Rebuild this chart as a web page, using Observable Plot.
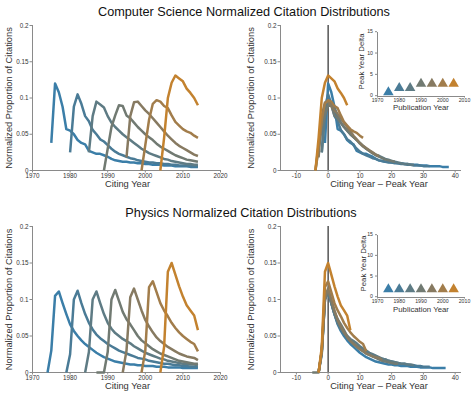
<!DOCTYPE html>
<html>
<head>
<meta charset="utf-8">
<script src="https://cdn.jsdelivr.net/npm/d3@7"></script>
<script src="https://cdn.jsdelivr.net/npm/@observablehq/plot@0.6"></script>
<style>
  html, body { margin: 0; padding: 0; background: #fff; }
  #chart { position: relative; width: 474px; height: 395px; background: #fff; font-family: "Liberation Sans", Arial, sans-serif; overflow: hidden; }
  .title { position: absolute; width: 474px; text-align: center; font-size: 12.7px; line-height: 14px; color: #111; white-space: nowrap; }
  .panel { position: absolute; }
</style>
</head>
<body>
<div id="chart">
  <div class="title" style="left:7px; top:5px;">Computer Science Normalized Citation Distributions</div>
  <div class="title" style="left:4px; top:206px;">Physics Normalized Citation Distributions</div>
</div>
<script>
// ---------- data ----------
const pubYears = [1975, 1980, 1985, 1990, 1995, 2000, 2005];
const seriesColors = ["#3b7ea8", "#4a7b96", "#5e7b84", "#717a72", "#877a61", "#a27d4b", "#c3822f"];

// Computer Science: first citing year of each series and yearly values
const csStart = [1975, 1980, 1985, 1989, 1995, 1999, 2004];
const cs1975 = [0.038,0.12,0.108,0.088,0.057,0.055,0.05,0.042,0.038,0.036,0.027,0.025,0.023,0.023,0.021,0.019,0.016,0.014,0.013,0.012,0.012,0.011,0.011,0.010,0.010,0.009,0.009,0.008,0.008,0.008,0.007,0.007,0.007,0.006,0.006,0.006,0.006,0.005,0.005,0.005];
const cs1980 = [0.025,0.088,0.105,0.092,0.075,0.068,0.056,0.05,0.043,0.04,0.035,0.03,0.026,0.023,0.021,0.019,0.017,0.016,0.014,0.013,0.012,0.011,0.011,0.010,0.010,0.009,0.009,0.008,0.008,0.007,0.007,0.007,0.006,0.006,0.006];
const cs1985 = [0.025,0.075,0.095,0.091,0.087,0.075,0.066,0.06,0.055,0.05,0.046,0.042,0.038,0.034,0.03,0.027,0.024,0.022,0.02,0.018,0.016,0.015,0.013,0.012,0.011,0.010,0.009,0.009,0.008,0.008];
const cs1990 = [0,0.03,0.06,0.076,0.09,0.089,0.076,0.072,0.066,0.06,0.055,0.05,0.046,0.042,0.037,0.033,0.03,0.027,0.024,0.021,0.019,0.017,0.015,0.014,0.013,0.012];
const cs1995 = [0.018,0.075,0.094,0.095,0.089,0.083,0.078,0.072,0.066,0.06,0.054,0.048,0.043,0.038,0.034,0.031,0.028,0.025,0.022,0.02];
const cs2000 = [0,0.035,0.07,0.092,0.097,0.095,0.089,0.086,0.076,0.067,0.062,0.057,0.054,0.052,0.048,0.045];
const cs2005 = [0,0.045,0.1,0.121,0.131,0.127,0.123,0.113,0.107,0.1,0.09];
const csPeakDelta = [1, 2, 2, 3, 3, 3, 3];

// Physics
const phStart = [1974, 1979, 1984, 1987, 1994, 1999, 2004];
const ph1975 = [0,0.03,0.105,0.111,0.095,0.08,0.066,0.057,0.05,0.044,0.039,0.035,0.031,0.027,0.024,0.021,0.019,0.017,0.015,0.014,0.013,0.012,0.011,0.011,0.010,0.010,0.009,0.009,0.009,0.008,0.008,0.008,0.007,0.007,0.007,0.007,0.006,0.006,0.006,0.006,0.006];
const ph1980 = [0,0.025,0.1,0.112,0.095,0.08,0.068,0.059,0.052,0.047,0.043,0.039,0.036,0.033,0.03,0.028,0.026,0.024,0.022,0.02,0.019,0.018,0.016,0.015,0.014,0.013,0.012,0.012,0.011,0.010,0.010,0.009,0.009,0.008,0.008,0.008];
const ph1985 = [0,0.028,0.1,0.111,0.095,0.08,0.068,0.06,0.054,0.05,0.046,0.043,0.04,0.036,0.033,0.03,0.027,0.025,0.023,0.021,0.019,0.018,0.016,0.015,0.014,0.013,0.012,0.012,0.011,0.011,0.010];
const ph1990 = [0,0,0,0.028,0.1,0.113,0.098,0.083,0.073,0.066,0.058,0.05,0.044,0.04,0.036,0.032,0.029,0.026,0.024,0.022,0.02,0.018,0.016,0.015,0.014,0.013,0.012,0.012];
const ph1995 = [0,0.03,0.103,0.115,0.1,0.085,0.072,0.063,0.055,0.048,0.043,0.039,0.035,0.032,0.029,0.026,0.024,0.022,0.021,0.02,0.017];
const ph2000 = [0,0.03,0.117,0.125,0.11,0.095,0.085,0.077,0.068,0.061,0.055,0.05,0.046,0.042,0.039,0.029];
const ph2005 = [0,0.035,0.138,0.15,0.134,0.118,0.104,0.092,0.085,0.078,0.058];
const phPeakDelta = [2, 2, 2, 2, 2, 2, 2];

// tick labels
const yTicks = [0, 0.05, 0.1, 0.15, 0.2];
const citingYearTicks = [1970, 1980, 1990, 2000, 2010, 2020];
const relTicks = [-10, 0, 10, 20, 30, 40];
const insetXTicks = [1970, 1980, 1990, 2000, 2010];
const insetYTicks = [0, 5, 10, 15];

// ---------- build tables ----------
function buildRows(starts, seriesList, deltas) {
  const rows = [];
  seriesList.forEach((vals, i) => {
    const pub = pubYears[i];
    const peak = pub + deltas[i];
    vals.forEach((v, k) => {
      const year = starts[i] + k;
      rows.push({pub, year, rel: year - peak, value: v});
    });
  });
  return rows;
}
const csRows = buildRows(csStart, [cs1975, cs1980, cs1985, cs1990, cs1995, cs2000, cs2005], csPeakDelta);
const phRows = buildRows(phStart, [ph1975, ph1980, ph1985, ph1990, ph1995, ph2000, ph2005], phPeakDelta);
const csDelta = pubYears.map((p, i) => ({pub: p, delta: csPeakDelta[i]}));
const phDelta = pubYears.map((p, i) => ({pub: p, delta: phPeakDelta[i]}));

// ---------- drawing ----------
const FONT = "Liberation Sans, Arial, sans-serif";
const AX = "#8a8a8a";
const TXT = "#333";
const color = {type: "ordinal", domain: pubYears, range: seriesColors};
const chart = document.getElementById("chart");

function place(svg, left, top) {
  const d = document.createElement("div");
  d.className = "panel";
  d.style.left = left + "px";
  d.style.top = top + "px";
  d.appendChild(svg);
  chart.appendChild(d);
}

function mainPanel({rows, xKey, xDomain, xTicks, geom, xLabel, xLabelDx, ylabDx, zeroRule}) {
  const marks = [
    Plot.axisX({ticks: xTicks, tickFormat: d => String(d), tickSize: 2.5, tickPadding: 1, label: null, stroke: AX, fill: TXT}),
    Plot.axisY({ticks: yTicks, tickFormat: d => String(d), tickSize: 2.5, tickPadding: 1.5, label: null, stroke: AX, fill: TXT}),
    Plot.ruleY([0], {stroke: AX, strokeWidth: 1}),
    Plot.ruleX([xDomain[0]], {stroke: AX, strokeWidth: 1})
  ];
  if (zeroRule) marks.push(Plot.ruleX([0], {stroke: "#3a3a3a", strokeWidth: 1.3}));
  marks.push(
    Plot.line(rows, {x: xKey, y: "value", z: "pub", stroke: "pub", strokeWidth: 2.5, strokeLinejoin: "round", strokeLinecap: "butt"}),
    Plot.text([xLabel], {frameAnchor: "bottom", dy: 16, dx: xLabelDx, fontSize: 9.3, fill: TXT}),
    Plot.text(["Normalized Proportion of Citations"], {frameAnchor: "left", textAnchor: "middle", rotate: -90, dx: ylabDx, fontSize: 9.3, fill: TXT})
  );
  return Plot.plot({
    width: geom.width, height: geom.height,
    marginLeft: geom.ml, marginRight: geom.mr, marginTop: geom.mt, marginBottom: geom.mb,
    x: {domain: xDomain},
    y: {domain: [0, 0.2]},
    color,
    style: {fontFamily: FONT, fontSize: "6.3px", color: TXT, background: "transparent", overflow: "visible"},
    marks
  });
}

function inset({data, geom, xlabDy, ylabDx, ylabDy}) {
  return Plot.plot({
    width: geom.width, height: geom.height,
    marginLeft: geom.ml, marginRight: geom.mr, marginTop: geom.mt, marginBottom: geom.mb,
    x: {domain: [1970, 2010]},
    y: {domain: [0, 15]},
    color,
    style: {fontFamily: FONT, fontSize: "5.2px", color: TXT, background: "transparent", overflow: "visible"},
    marks: [
      Plot.axisX({ticks: insetXTicks, tickFormat: d => String(d), tickSize: 1.5, tickPadding: 0.5, label: null, stroke: AX, fill: TXT}),
      Plot.axisY({ticks: insetYTicks, tickFormat: d => String(d), tickSize: 2, tickPadding: 2.5, label: null, stroke: AX, fill: TXT, dy: -0.8}),
      Plot.ruleY([0], {stroke: AX}),
      Plot.ruleX([1970], {stroke: AX}),
      Plot.dot(data, {x: "pub", y: "delta", symbol: "triangle", r: 3.9, fill: "pub", stroke: "none"}),
      Plot.text(["Publication Year"], {frameAnchor: "bottom", dy: xlabDy, fontSize: 7.8, fill: TXT}),
      Plot.text(["Peak Year Delta"], {frameAnchor: "left", textAnchor: "middle", rotate: -90, dx: ylabDx, dy: ylabDy, fontSize: 7.8, fill: TXT})
    ]
  });
}

// Computer Science row
place(mainPanel({
  rows: csRows, xKey: "year", xDomain: [1970, 2020], xTicks: citingYearTicks,
  geom: {width: 237, height: 197, ml: 32, mr: 17, mt: 25, mb: 27},
  xLabel: "Citing Year", xLabelDx: 1, ylabDx: -23.5
}), 0, 0);
place(mainPanel({
  rows: csRows, xKey: "rel", xDomain: [-15, 42], xTicks: relTicks,
  geom: {width: 237, height: 197, ml: 43, mr: 13, mt: 25, mb: 27},
  xLabel: "Citing Year \u2013 Peak Year", xLabelDx: 8, ylabDx: -29, zeroRule: true
}), 237, 0);
place(inset({data: csDelta, geom: {width: 134, height: 100, ml: 37, mr: 10, mt: 12, mb: 24}, xlabDy: 13.5, ylabDx: -16, ylabDy: -3}), 340, 20);

// Physics row
place(mainPanel({
  rows: phRows, xKey: "year", xDomain: [1970, 2020], xTicks: citingYearTicks,
  geom: {width: 237, height: 195, ml: 32, mr: 17, mt: 26, mb: 23},
  xLabel: "Citing Year", xLabelDx: 1, ylabDx: -23.5
}), 0, 200);
place(mainPanel({
  rows: phRows, xKey: "rel", xDomain: [-15, 42], xTicks: relTicks,
  geom: {width: 237, height: 195, ml: 43, mr: 13, mt: 26, mb: 23},
  xLabel: "Citing Year \u2013 Peak Year", xLabelDx: 8, ylabDx: -29, zeroRule: true
}), 237, 200);
place(inset({data: phDelta, geom: {width: 134, height: 100, ml: 37, mr: 10, mt: 12, mb: 26}, xlabDy: 14, ylabDx: -14, ylabDy: -3}), 340, 223);
</script>
</body>
</html>
